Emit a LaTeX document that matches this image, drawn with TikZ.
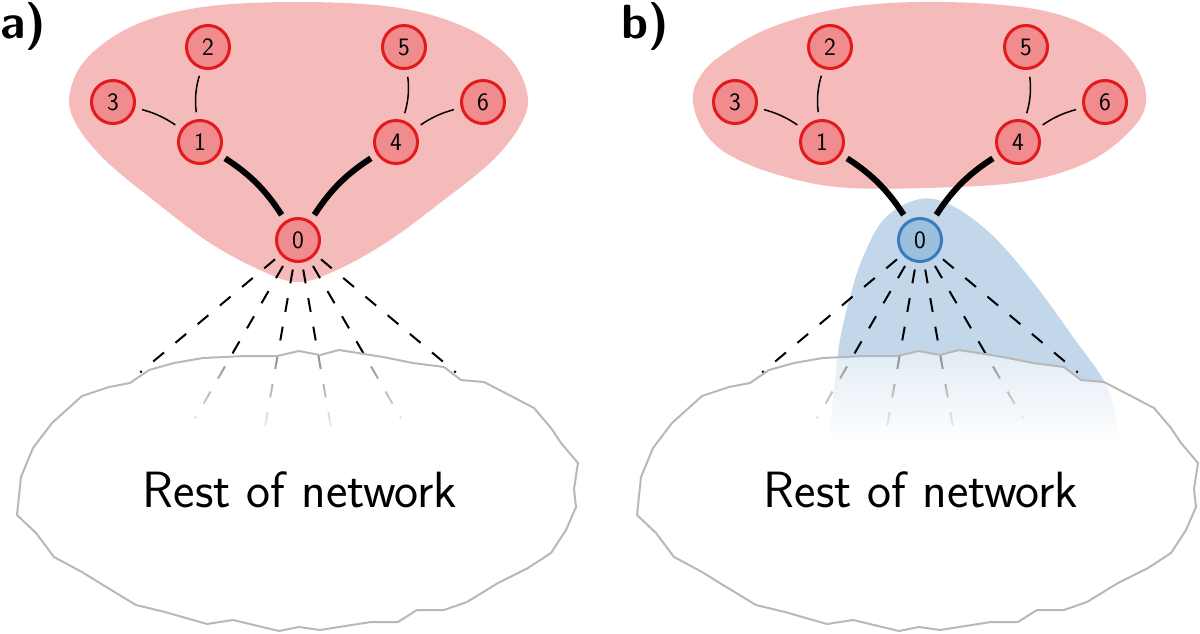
\documentclass[tikz,border=0pt]{standalone}
\usetikzlibrary{calc,fadings}
\definecolor{pinkblob}{HTML}{F5BBBB}
\definecolor{rfill}{HTML}{F08C8E}
\definecolor{rline}{HTML}{E31A1C}
\definecolor{blueblob}{HTML}{C2D8EA}
\definecolor{bfill}{HTML}{9DBFDE}
\definecolor{bline}{HTML}{3B7DB9}
\definecolor{cloudline}{HTML}{B8B8B8}
\tikzfading[name=fadeopaque, top color=transparent!100, bottom color=transparent!0]
\newcommand\mycloud{(130,383) -- (109,387) -- (82,396) -- (52,423) -- (33,448) -- (21,477) -- (17,515) -- (36,533) -- (54,557) -- (82,572) -- (103,585) -- (136,605) -- (165,612) -- (207,624) -- (233,620) -- (279,631) -- (299,627) -- (320,630) -- (371,622) -- (398,622) -- (417,610) -- (444,610) -- (467,602) -- (498,583) -- (528,568) -- (551,553) -- (566,530) -- (576,507) -- (574,489) -- (578,463) -- (561,443) -- (551,428) -- (534,408) -- (513,397) -- (484,382) -- (461,380) -- (444,367) -- (413,363) -- (383,357) -- (358,353) -- (339,350) -- (320,355) -- (299,351) -- (277,356) -- (245,356) -- (203,358) -- (174,363) -- (149,370) -- cycle}
\tikzset{
  netnode/.style={circle, line width=3pt, minimum size=43pt, inner sep=0pt, text=black,
    font=\sffamily\fontsize{25}{25}\selectfont},
  rnode/.style={netnode, draw=rline, fill=rfill},
  bnode/.style={netnode, draw=bline, fill=bfill},
  thinedge/.style={line width=1.5pt, black, shorten <=7pt, shorten >=7pt},
  thickedge/.style={line width=6pt, black, shorten <=7pt, shorten >=7pt},
  dashline/.style={line width=2pt, black, dash pattern=on 14pt off 15pt, shorten <=30pt},
  cloudedge/.style={draw=cloudline, line width=2pt, line join=round},
  bigtext/.style={font=\sffamily\fontsize{51}{54}\selectfont, inner sep=0pt, anchor=base},
  panellabel/.style={font=\sffamily\bfseries\fontsize{48}{50}\selectfont, inner sep=0pt, anchor=base west}
}
\begin{document}
\begin{tikzpicture}[x=1pt,y=-1pt]
\useasboundingbox (0,0) rectangle (1200,633);
\coordinate (ac) at (298,240);
\coordinate (bc) at (920,240);
% blobs
\fill[pinkblob] plot[smooth cycle, tension=0.6] coordinates {(298,2) (393,7) (460,25) (507,55) (527,92) (522,122) (493,160) (440,203) (387,242) (337,270) (298,282) (260,270) (210,243) (157,203) (105,160) (75,122) (70,92) (88,57) (135,25) (203,7)};
\fill[blueblob] plot[smooth cycle, tension=0.6] coordinates {(920,199) (953,206) (993,236) (1033,282) (1073,337) (1107,387) (1120,440) (1124,490) (975,500) (830,490) (830,433) (835,380) (840,340) (850,297) (863,257) (885,218)};
\fill[pinkblob] plot[smooth cycle, tension=0.6] coordinates {(693,102) (703,130) (726,153) (772,173) (837,187) (925,188) (1021,182) (1086,163) (1128,133) (1146,103) (1136,67) (1101,33) (1040,10) (944,2) (849,7) (772,27) (719,57) (698,80)};
% dashed links to the rest of the network
\foreach \t in {40,60,80,100,120,140} {
  \coordinate (ae\t) at ($(ac)+(\t:206)$);
  \coordinate (be\t) at ($(bc)+(\t:206)$);
  \draw[dashline] (ac) -- (ae\t);
  \draw[dashline] (bc) -- (be\t);
}
% clouds
\foreach \dx in {0,620} {
\begin{scope}[xshift=\dx pt]
  \begin{scope}
    \clip \mycloud;
    \fill[white, opacity=0.5] (0,300) rectangle (600,640);
    \fill[white, path fading=fadeopaque] (0,345) rectangle (600,441);
    \fill[white] (0,440) rectangle (600,640);
  \end{scope}
  \draw[cloudedge] \mycloud;
\end{scope}
}
\node[bigtext] (ta) at (300,507) {Rest of network};
\node[bigtext] (tb) at (921,507) {Rest of network};
% panel a nodes
\node[rnode] (a0) at (ac) {0};
\node[rnode] (a1) at (200,142) {1};
\node[rnode] (a2) at (208,47) {2};
\node[rnode] (a3) at (113,102) {3};
\node[rnode] (a4) at (396,142) {4};
\node[rnode] (a5) at (404,47) {5};
\node[rnode] (a6) at (483,102) {6};
% panel b nodes
\node[bnode] (b0) at (bc) {0};
\node[rnode] (b1) at (822,142) {1};
\node[rnode] (b2) at (830,47) {2};
\node[rnode] (b3) at (735,102) {3};
\node[rnode] (b4) at (1018,142) {4};
\node[rnode] (b5) at (1026,47) {5};
\node[rnode] (b6) at (1105,102) {6};
% edges
\foreach \p in {a,b} {
  \draw[thinedge] (\p2) to[bend right=12] (\p1);
  \draw[thinedge] (\p3) to[bend left=10] (\p1);
  \draw[thinedge] (\p5) to[bend left=12] (\p4);
  \draw[thinedge] (\p6) to[bend right=10] (\p4);
  \draw[thickedge] (\p1) to[bend left=12] (\p0);
  \draw[thickedge] (\p4) to[bend right=12] (\p0);
}
\node[panellabel] (la) at (0,38) {a)};
\node[panellabel] (lb) at (621,38) {b)};
\end{tikzpicture}
\end{document}
